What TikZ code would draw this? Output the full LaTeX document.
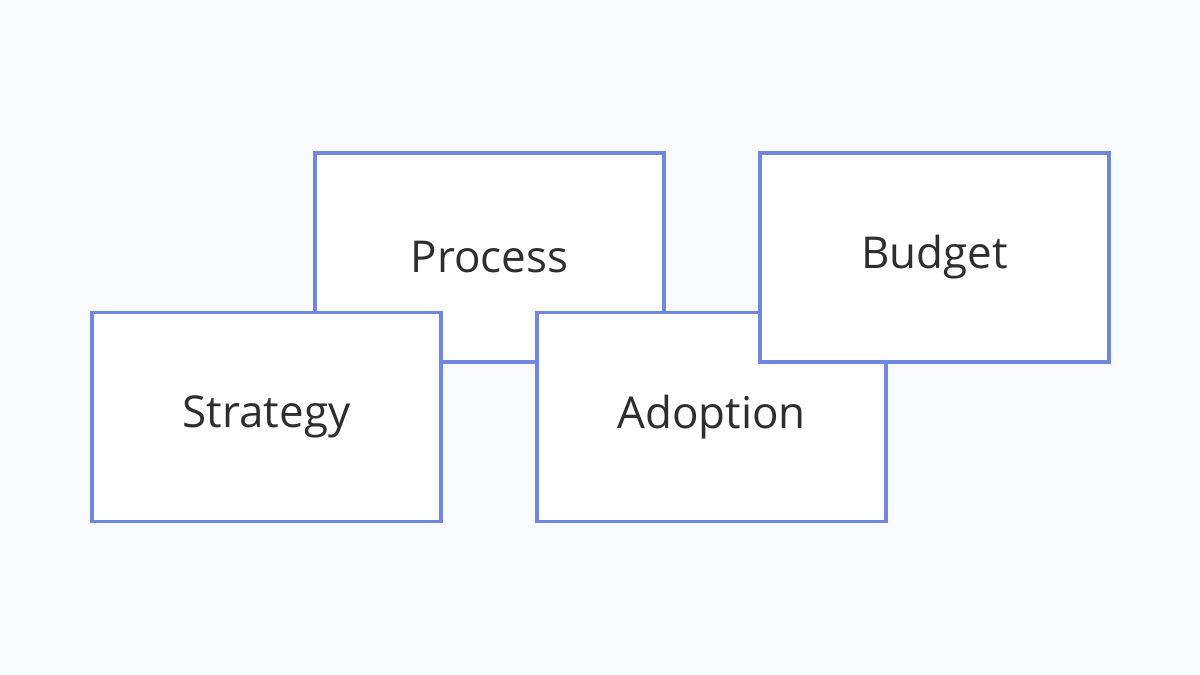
\documentclass[tikz,border=0pt]{standalone}
\usepackage{fontspec}
\setsansfont{Open Sans}
\usetikzlibrary{positioning}
\definecolor{bgcol}{HTML}{FAFBFE}
\definecolor{edgecol}{HTML}{6F87E0}
\definecolor{txtcol}{HTML}{2E2E2E}

\begin{document}
\begin{tikzpicture}[
    font=\sffamily,
    card/.style={
        rectangle,
        draw=edgecol,
        fill=white,
        line width=1.05pt,
        minimum width=3.49cm,
        minimum height=2.09cm,
        inner sep=0pt,
        text=txtcol,
        font=\sffamily\fontsize{12.5}{15}\selectfont
    }
]
\fill[bgcol] (0,0) rectangle (12,6.75);
\useasboundingbox (0,0) rectangle (12,6.75);

\node[card] (process) at (4.895,4.175) {Process};
\node[card] (strategy) at (2.665,2.58) {Strategy};
\node[card] (adoption) at (7.115,2.58) {Adoption};
\node[card] (budget) at (9.345,4.175) {Budget};

\end{tikzpicture}
\end{document}
